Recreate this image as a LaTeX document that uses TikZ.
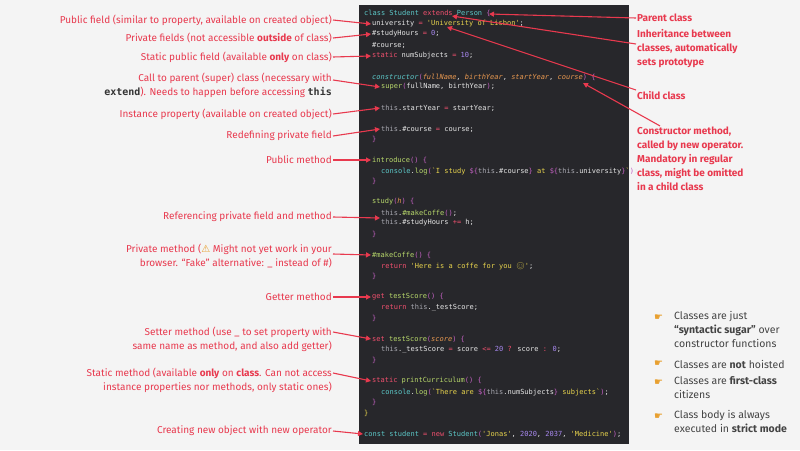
\documentclass[tikz,border=0pt]{standalone}
\usepackage{fontspec}
\setmainfont{Fira Sans}
\newfontfamily\codefont{DejaVu Sans Mono}
\newfontfamily\emo{Noto Emoji}
\newfontfamily\dvs{DejaVu Sans}
\usetikzlibrary{arrows.meta}
\definecolor{bg}{HTML}{F4F4F4}
\definecolor{panel}{HTML}{27272B}
\definecolor{lab}{HTML}{E8394E}
\definecolor{cteal}{HTML}{5CC8C8}
\definecolor{cred}{HTML}{F0506E}
\definecolor{cyel}{HTML}{E8D44D}
\definecolor{cnum}{HTML}{A888F0}
\definecolor{cfn}{HTML}{B8D86B}
\definecolor{cpl}{HTML}{E6E6E6}
\definecolor{cthis}{HTML}{A8A8B0}
\definecolor{cpar}{HTML}{E89850}
\definecolor{cbr}{HTML}{C060C0}
\definecolor{txt}{HTML}{444444}
\definecolor{hand}{HTML}{E8A030}
\newcommand{\cT}[1]{\textcolor{cteal}{#1}}
\newcommand{\cR}[1]{\textcolor{cred}{#1}}
\newcommand{\cY}[1]{\textcolor{cyel}{#1}}
\newcommand{\cN}[1]{\textcolor{cnum}{#1}}
\newcommand{\cF}[1]{\textcolor{cfn}{#1}}
\newcommand{\cH}{\textcolor{cthis}{this}}
\newcommand{\cA}[1]{\textcolor{cpar}{\itshape #1}}
\newcommand{\cB}[1]{\textcolor{cbr}{#1}}
\newcommand{\mc}[1]{{\codefont\bfseries\color{black!80}#1}}
\tikzset{
 code/.style={anchor=west,inner sep=0pt,font=\codefont\fontsize{7}{8}\selectfont,text=cpl},
 ll/.style={anchor=east,align=right,inner sep=1pt,text=lab,font=\fontsize{10}{14}\selectfont},
 rl/.style={anchor=west,align=left,inner sep=1pt,text=lab,font=\bfseries\fontsize{10}{14}\selectfont},
 arr/.style={draw=lab,line width=1.1pt,-{Triangle[length=5pt,width=5pt]}},
 bl/.style={anchor=west,align=left,inner sep=0pt,text=txt,font=\fontsize{10.5}{14}\selectfont},
 hnd/.style={anchor=west,inner sep=0pt,text=hand,font=\dvs\fontsize{10}{10}\selectfont}
}
\begin{document}
\begin{tikzpicture}[x=1pt,y=1pt]
\fill[bg] (0,0) rectangle (800,-450);
\useasboundingbox (0,0) rectangle (800,-450);
\fill[panel] (359,-5) rectangle (629,-444);
% code
\node[code] (c1) at (364,-13) {\cT{class} \cT{Student} \cR{extends} \cT{Person} \cB{\{}};
\node[code] (c2) at (372,-24) {university \cR{=} \cY{'University of Lisbon'};};
\node[code] (c3) at (372,-34) {\#studyHours \cR{=} \cN{0};};
\node[code] (c4) at (372,-45) {\#course;};
\node[code] (c5) at (372,-56) {\cR{static} numSubjects \cR{=} \cN{10};};
\node[code] (c6) at (372,-77) {\cT{\itshape constructor}\cB{(}\cA{fullName}, \cA{birthYear}, \cA{startYear}, \cA{course}\cB{)}~\cB{\{}};
\node[code] (c7) at (381,-87) {\cF{super}\cB{(}fullName, birthYear\cB{)};};
\node[code] (c8) at (381,-108) {\cH.startYear \cR{=} startYear;};
\node[code] (c9) at (381,-129) {\cH.\#course \cR{=} course;};
\node[code] (c10) at (372,-139) {\cB{\}}};
\node[code] (c11) at (372,-160) {\cF{introduce}\cB{()}~\cB{\{}};
\node[code] (c12) at (381,-171) {\cT{console}.\cF{log}\cB{(}\cY{`I}~\cY{study}~\cB{\$\{}\cH.\#course\cB{\}}~\cY{at}~\cB{\$\{}\cH.university\cB{\}}\cY{`}\cB{)};};
\node[code] (c13) at (372,-181) {\cB{\}}};
\node[code] (c14) at (372,-202) {\cF{study}\cB{(}\cA{h}\cB{)}~\cB{\{}};
\node[code] (c15) at (381,-213) {\cH.\cF{\#makeCoffe}\cB{()};};
\node[code] (c16) at (381,-223) {\cH.\#studyHours \cR{+=} h;};
\node[code] (c17) at (372,-234) {\cB{\}}};
\node[code] (c18) at (372,-255) {\cF{\#makeCoffe}\cB{()}~\cB{\{}};
\node[code] (c19) at (381,-266) {\cR{return} \cY{'Here is a coffe for you {\emo 😊}'};};
\node[code] (c20) at (372,-276) {\cB{\}}};
\node[code] (c21) at (372,-297) {\cR{get} \cF{testScore}\cB{()}~\cB{\{}};
\node[code] (c22) at (381,-308) {\cR{return} \cH.\_testScore;};
\node[code] (c23) at (372,-318) {\cB{\}}};
\node[code] (c24) at (372,-339) {\cR{set} \cF{testScore}\cB{(}\cA{score}\cB{)}~\cB{\{}};
\node[code] (c25) at (381,-350) {\cH.\_testScore \cR{=} score \cR{<=} \cN{20} \cR{?} score \cR{:} \cN{0};};
\node[code] (c26) at (372,-360) {\cB{\}}};
\node[code] (c27) at (372,-381) {\cR{static} \cF{printCurriculum}\cB{()}~\cB{\{}};
\node[code] (c28) at (381,-392) {\cT{console}.\cF{log}\cB{(}\cY{`There}~\cY{are}~\cB{\$\{}\cH.numSubjects\cB{\}}~\cY{subjects`}\cB{)};};
\node[code] (c29) at (372,-402) {\cB{\}}};
\node[code] (c30) at (364,-413) {\cY{\}}};
\node[code] (c31) at (364,-434) {\cT{const} \cT{student} \cR{=} \cR{new} \cT{Student}\cB{(}\cY{'Jonas'}, \cN{2020}, \cN{2037}, \cY{'Medicine'}\cB{)};};
% left labels
\node[ll] (a1) at (333,-20) {Public field (similar to property, available on created object)};
\node[ll] (a2) at (333,-38) {Private fields (not accessible \textbf{outside} of class)};
\node[ll] (a3) at (333,-57) {Static public field (available \textbf{only} on class)};
\node[ll] (a4) at (333,-85) {Call to parent (super) class (necessary with\\\mc{extend}). Needs to happen before accessing \mc{this}};
\node[ll] (a5) at (333,-114) {Instance property (available on created object)};
\node[ll] (a6) at (333,-136) {Redefining private field};
\node[ll] (a7) at (333,-160) {Public method};
\node[ll] (a8) at (333,-217) {Referencing private field and method};
\node[ll] (a9) at (333,-256) {Private method ({\dvs\color{hand}⚠} Might not yet work in your\\browser. “Fake” alternative: \_ instead of \#)};
\node[ll] (a10) at (333,-297) {Getter method};
\node[ll] (a11) at (333,-339) {Setter method (use \_ to set property with\\same name as method, and also add getter)};
\node[ll] (a12) at (333,-380) {Static method (available \textbf{only} on \textbf{class}. Can not access\\instance properties nor methods, only static ones)};
\node[ll] (a13) at (333,-431) {Creating new object with new operator};
\draw[arr] (a1.east) -- ([xshift=-1pt]c2.west);
\draw[arr] (a2.east) -- ([xshift=-1pt]c3.west);
\draw[arr] (a3.east) -- ([xshift=-1pt]c5.west);
\draw[arr] ([yshift=5pt]a4.east) -- ([xshift=-1pt]c7.west);
\draw[arr] (a5.east) -- ([xshift=-1pt]c8.west);
\draw[arr] (a6.east) -- ([xshift=-1pt]c9.west);
\draw[arr] (a7.east) -- ([xshift=-1pt]c11.west);
\draw[arr] (a8.east) -- ([xshift=-1pt,yshift=-5pt]c15.west);
\draw[arr] ([yshift=2pt]a9.east) -- ([xshift=-1pt]c18.west);
\draw[arr] (a10.east) -- ([xshift=-1pt]c21.west);
\draw[arr] ([yshift=7pt]a11.east) -- ([xshift=-1pt]c24.west);
\draw[arr] ([yshift=7pt]a12.east) -- ([xshift=-1pt]c27.west);
\draw[arr] (a13.east) -- ([xshift=-1pt]c31.west);
% right labels
\node[rl] (b1) at (636,-18) {Parent class};
\node[rl] (b2) at (636,-49) {Inheritance between\\classes, automatically\\sets prototype};
\node[rl] (b3) at (636,-96) {Child class};
\node[rl] (b4) at (636,-159) {Constructor method,\\called by new operator.\\Mandatory in regular\\class, might be omitted\\in a child class};
\coordinate (p1) at (489,-14);
\coordinate (p2) at (452,-16);
\coordinate (p3) at (447,-27);
\coordinate (p4) at (583,-83);
\draw[arr] (b1.west) -- (p1);
\draw[arr] ([yshift=5pt]b2.west) -- (p2);
\draw[arr] ([yshift=6pt]b3.west) -- (p3);
\draw[arr] ([xshift=24pt]b4.north west) -- (p4);
% bullets
\node[hnd] (h1) at (654,-318) {☛};
\node[bl,anchor=north west] (t1) at (674,-311) {Classes are just\\\textbf{“syntactic sugar”} over\\constructor functions};
\node[hnd] (h2) at (654,-364) {☛};
\node[bl] (t2) at (674,-364) {Classes are \textbf{not} hoisted};
\node[hnd] (h3) at (654,-383) {☛};
\node[bl,anchor=north west] (t3) at (674,-376) {Classes are \textbf{first-class}\\citizens};
\node[hnd] (h4) at (654,-417) {☛};
\node[bl,anchor=north west] (t4) at (674,-410) {Class body is always\\executed in \textbf{strict mode}};
\end{tikzpicture}
\end{document}
